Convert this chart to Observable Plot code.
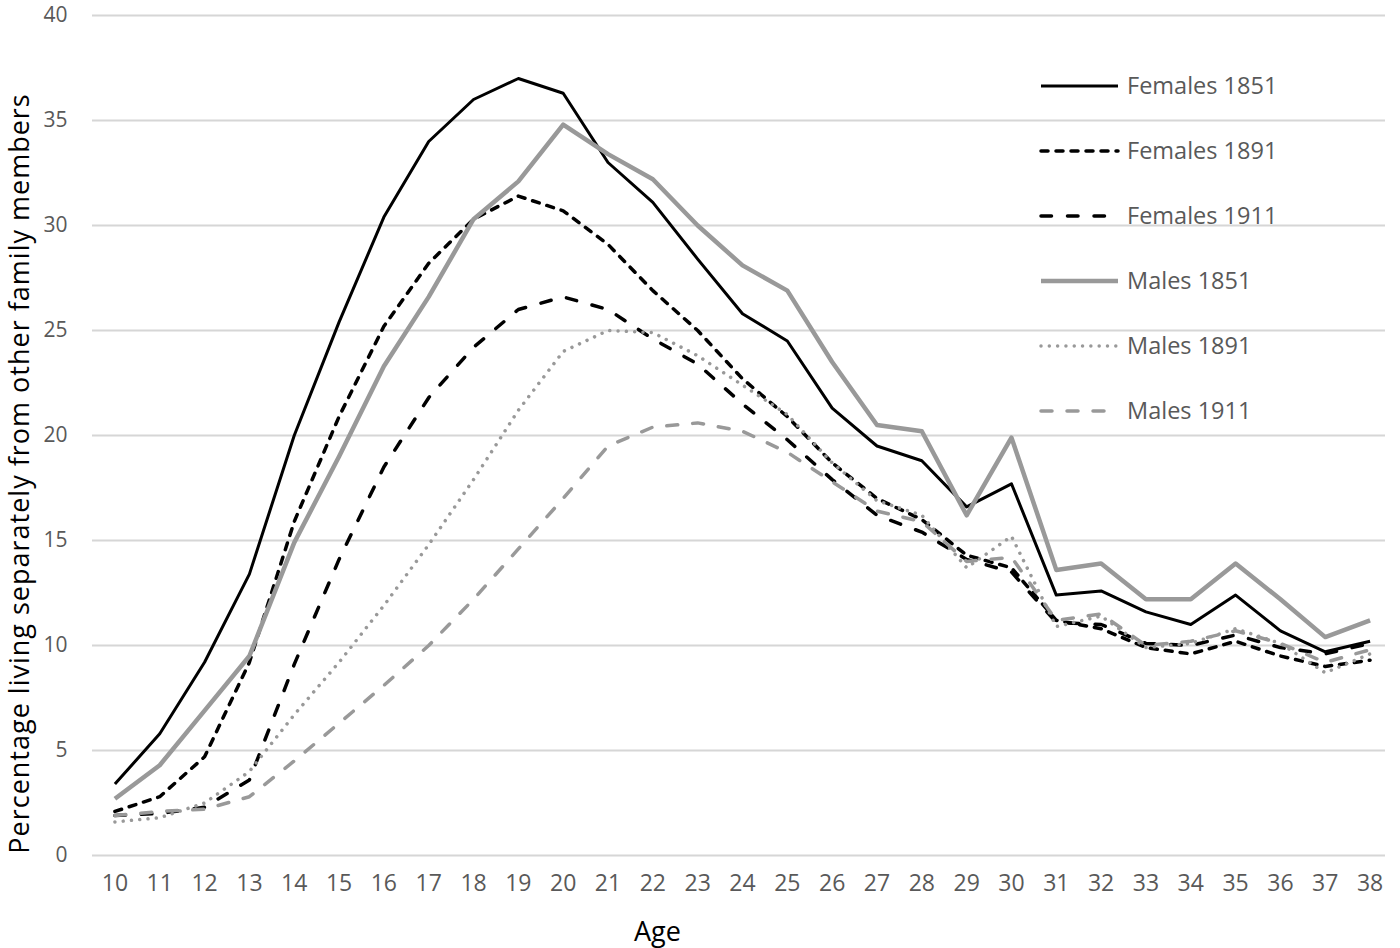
<!DOCTYPE html>
<html>
<head>
<meta charset="utf-8">
<script src="https://cdn.jsdelivr.net/npm/d3@7"></script>
<script src="https://cdn.jsdelivr.net/npm/@observablehq/plot@0.6"></script>
<style>
  html, body { margin: 0; padding: 0; background: white; }
  #wrap { position: relative; width: 1400px; height: 948px; }
  #legend { position: absolute; left: 0; top: 0; pointer-events: none; }
</style>
</head>
<body>
<div id="wrap"></div>
<script>
// ---- data ----
const ages = [10,11,12,13,14,15,16,17,18,19,20,21,22,23,24,25,26,27,28,29,30,31,32,33,34,35,36,37,38];
const seriesNames = ["Females 1851", "Females 1891", "Females 1911", "Males 1851", "Males 1891", "Males 1911"];
const females1851 = [3.4,5.8,9.2,13.4,20.0,25.4,30.4,34.0,36.0,37.0,36.3,33.0,31.1,28.4,25.8,24.5,21.3,19.5,18.8,16.6,17.7,12.4,12.6,11.6,11.0,12.4,10.7,9.7,10.2];
const females1891 = [2.1,2.8,4.7,9.2,15.9,20.9,25.2,28.2,30.3,31.4,30.7,29.1,26.9,25.0,22.7,20.9,18.7,17.0,16.0,14.3,13.7,11.2,10.8,9.9,9.6,10.2,9.5,9.0,9.3];
const females1911 = [1.9,2.0,2.3,3.6,9.1,14.1,18.5,21.8,24.2,26.0,26.6,26.0,24.6,23.4,21.5,19.8,17.9,16.2,15.4,14.1,13.5,11.1,11.0,10.1,10.0,10.5,9.9,9.6,10.1];
const males1851 = [2.7,4.3,6.9,9.5,14.9,19.0,23.3,26.6,30.3,32.1,34.8,33.4,32.2,30.0,28.1,26.9,23.5,20.5,20.2,16.2,19.9,13.6,13.9,12.2,12.2,13.9,12.2,10.4,11.2];
const males1891 = [1.6,1.8,2.5,4.0,6.7,9.2,11.9,14.8,17.9,21.2,24.0,25.0,24.9,23.8,22.4,21.0,18.7,16.9,16.2,13.7,15.2,10.9,11.4,9.9,10.1,10.8,10.1,8.7,9.6];
const males1911 = [1.9,2.1,2.2,2.8,4.5,6.3,8.1,10.0,12.2,14.6,17.0,19.5,20.4,20.6,20.2,19.2,17.8,16.4,15.9,14.0,14.2,11.2,11.5,10.0,10.2,10.7,10.1,9.2,9.8];
const yTicks = [0,5,10,15,20,25,30,35,40];
const xTitle = "Age";
const yTitle = "Percentage living separately from other family members";

// ---- styles ----
const styles = [
  {stroke: "#000000", strokeWidth: 3,   dash: null,         cap: "butt"},
  {stroke: "#000000", strokeWidth: 3.5, dash: "7,8",        cap: "round"},
  {stroke: "#000000", strokeWidth: 3.5, dash: "10.5,16",    cap: "round"},
  {stroke: "#999999", strokeWidth: 4.5, dash: null,         cap: "butt"},
  {stroke: "#999999", strokeWidth: 3.5, dash: "0.01,8.3",   cap: "round"},
  {stroke: "#999999", strokeWidth: 3.5, dash: "11,15",      cap: "round"}
];
const values = [females1851, females1891, females1911, males1851, males1891, males1911];

const rows = [];
seriesNames.forEach((name, si) => {
  ages.forEach((a, i) => rows.push({series: name, age: a, value: values[si][i]}));
});

const font = "'Open Sans', sans-serif";

const lineMarks = seriesNames.map((name, si) => {
  const s = styles[si];
  return Plot.line(rows.filter(d => d.series === name), {
    x: "age", y: "value",
    stroke: s.stroke, strokeWidth: s.strokeWidth,
    strokeDasharray: s.dash || undefined,
    strokeLinecap: s.cap, strokeLinejoin: "round"
  });
});

const chart = Plot.plot({
  width: 1400,
  height: 948,
  marginLeft: 92,
  marginRight: 8,
  marginTop: 15,
  marginBottom: 93,
  style: {fontFamily: font, background: "white", color: "#595959"},
  x: {type: "point", domain: ages, padding: 0.5, round: false, label: null},
  y: {domain: [0, 40], label: null},
  marks: [
    Plot.gridY(yTicks, {stroke: "#d6d6d6", strokeOpacity: 1, strokeWidth: 2, insetRight: 7}),
    Plot.axisY(yTicks, {tickSize: 0, tickPadding: 25, fontSize: 21, fill: "#595959", label: null}),
    Plot.axisX(ages, {tickSize: 0, tickPadding: 19, fontSize: 23, fill: "#595959", label: null}),
    ...lineMarks,
    Plot.text([yTitle], {frameAnchor: "left", rotate: -90, textAnchor: "middle", dx: -72, dy: 38, fill: "#000000", fontSize: 27, fontFamily: font}),
    Plot.text([xTitle], {frameAnchor: "bottom", dx: -85, dy: 77, fill: "#000000", fontSize: 27, fontFamily: font, lineAnchor: "middle"})
  ]
});

// slight letter spacing on the y title to match the reference length
d3.select(chart).selectAll("text")
  .filter(function() { return this.textContent === yTitle; })
  .style("letter-spacing", "1px");

const wrap = document.getElementById("wrap");
wrap.appendChild(chart);

// ---- legend (overlay) ----
const legend = d3.select(wrap).append("svg")
  .attr("id", "legend")
  .attr("width", 1400).attr("height", 948);
const lg = legend.selectAll("g").data(seriesNames).join("g")
  .attr("transform", (d, i) => `translate(1041, ${86 + i * 65})`);
lg.append("line")
  .attr("x1", 0).attr("x2", 77).attr("y1", 0).attr("y2", 0)
  .attr("stroke", (d, i) => styles[i].stroke)
  .attr("stroke-width", (d, i) => styles[i].strokeWidth)
  .attr("stroke-dasharray", (d, i) => styles[i].dash)
  .attr("stroke-linecap", (d, i) => styles[i].cap);
lg.append("text")
  .attr("x", 86).attr("y", 0).attr("dy", "0.35em")
  .attr("font-family", font).attr("font-size", 23.5)
  .attr("fill", "#595959")
  .text(d => d);
</script>
</body>
</html>
